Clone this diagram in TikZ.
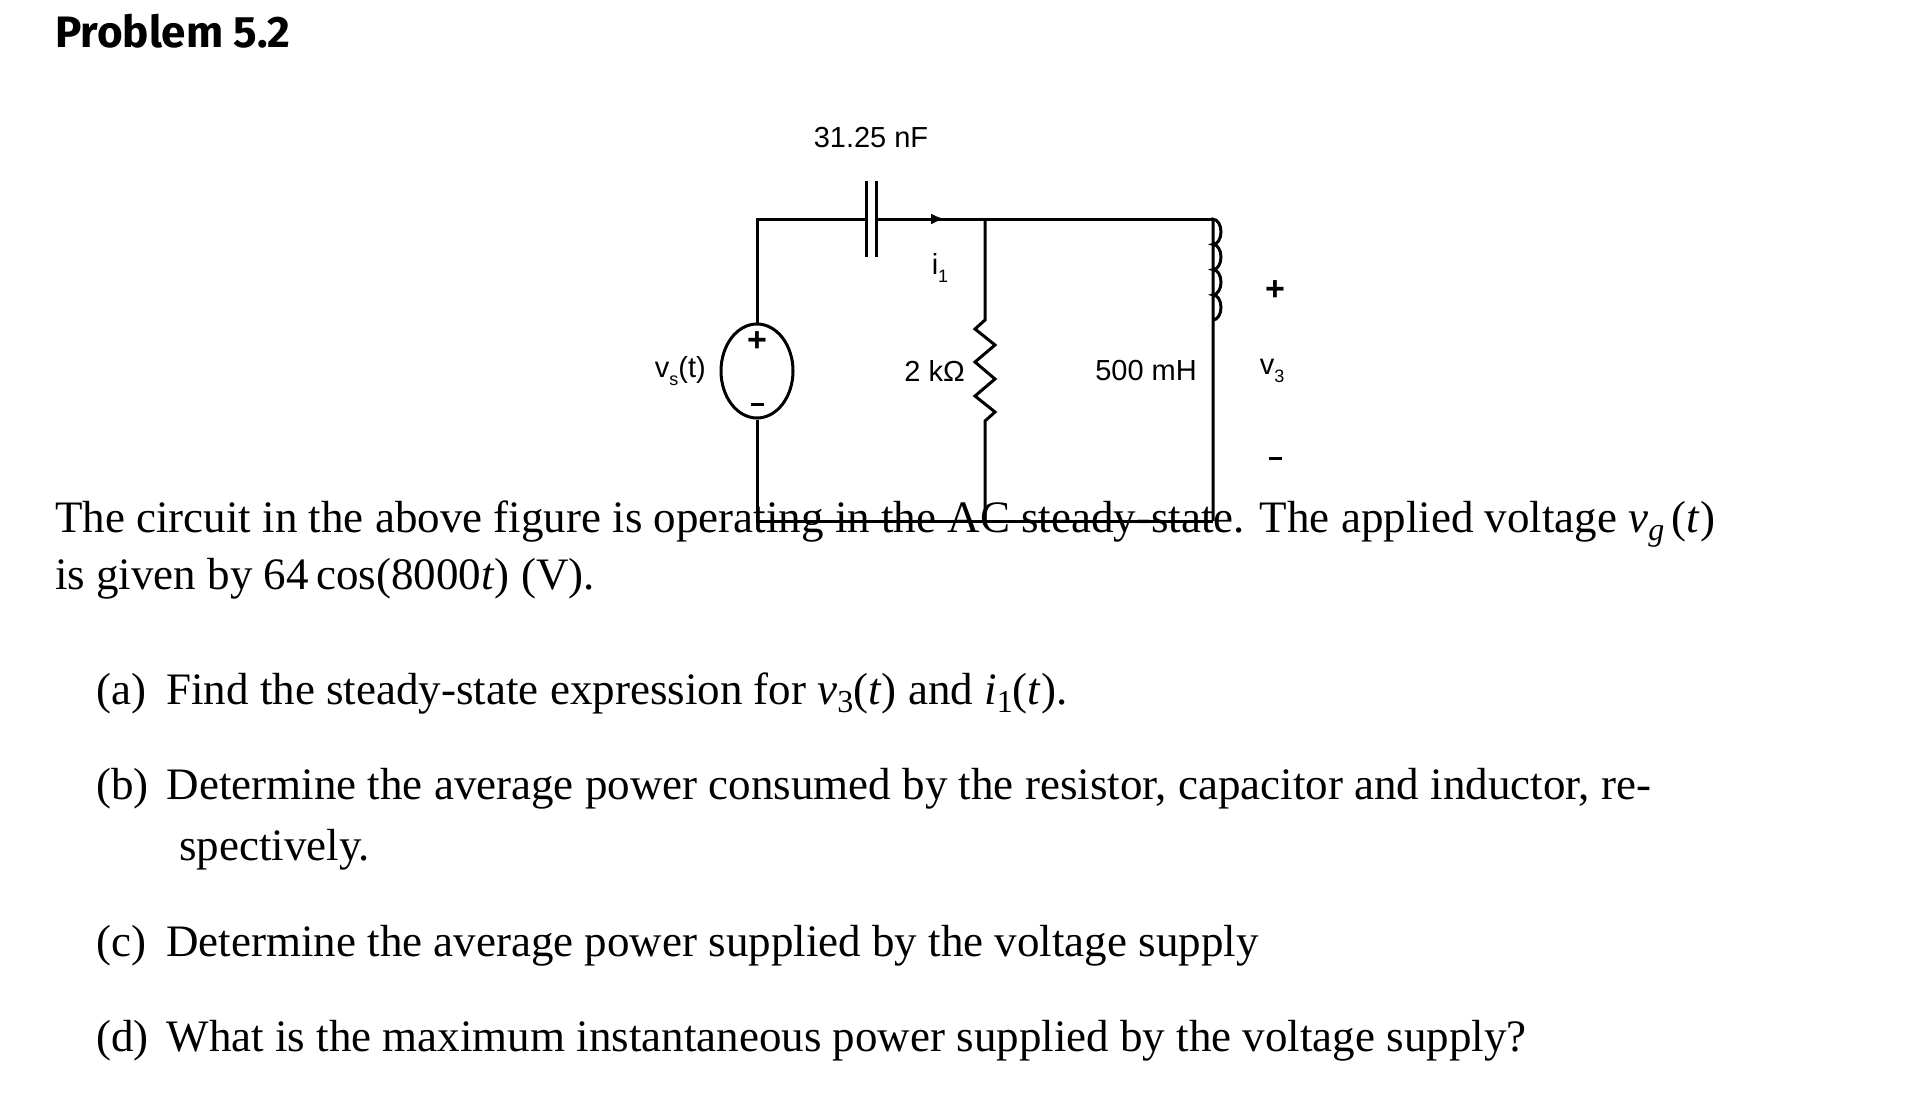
\documentclass[tikz,border=0pt]{standalone}
\usepackage{fontspec}
\setmainfont{Liberation Serif}
\newfontfamily\circfont{Liberation Sans}
\newfontfamily\titlefont{Fira Sans}
\usetikzlibrary{arrows.meta,shapes.geometric}
\newcommand{\mysub}[2]{\textit{#1}\raisebox{-0.35ex}{\fontsize{32}{32}\selectfont #2}}
\begin{document}
\begin{tikzpicture}[x=1pt,y=-1pt,
  wire/.style={line width=3pt},
  clab/.style={font=\circfont\fontsize{29}{32}\selectfont,inner sep=0pt},
  body/.style={font=\fontsize{45}{54}\selectfont,anchor=west,inner sep=0pt}]
\useasboundingbox (0,0) rectangle (1922,1098);
\node[anchor=west,inner sep=0pt,font=\titlefont\bfseries\fontsize{44}{48}\selectfont] (title) at (55,31) {Problem 5.2};
% circuit coordinates
\coordinate (tl) at (757,219); \coordinate (tm) at (985,219); \coordinate (tr) at (1213,219);
\coordinate (bl) at (757,521); \coordinate (bm) at (985,521); \coordinate (br) at (1213,521);
\coordinate (c1) at (866,219); \coordinate (c2) at (876,219);
\coordinate (a1) at (907,219); \coordinate (a2) at (945,219);
\node[draw,line width=3pt,ellipse,minimum width=72pt,minimum height=94pt,inner sep=0pt] (src) at (757,371) {};
\draw[wire] (src.north) -- (tl) -- (c1);
\draw[wire] (866,181) -- (866,257);
\draw[wire] (876,181) -- (876,257);
\draw[wire] (c2) -- (tr);
\draw[wire,-{Latex[length=14pt,width=11pt]}] (a1) -- (a2);
\draw[wire] (src.south) -- (bl) -- (br);
\draw[wire] (tm) -- (985,320) -- (975,329) -- (995,345) -- (975,362) -- (995,379) -- (975,396) -- (995,412) -- (985,421) -- (bm);
\draw[wire] (tr) -- (1213,320) arc[start angle=90,end angle=-90,x radius=8,y radius=12.6] arc[start angle=90,end angle=-90,x radius=8,y radius=12.6] arc[start angle=90,end angle=-90,x radius=8,y radius=12.6] arc[start angle=90,end angle=-90,x radius=8,y radius=12.6] -- (br);
\node[font=\circfont\bfseries\fontsize{34}{34}\selectfont,inner sep=0pt] (sp) at (757,342) {+};
\node[font=\circfont\bfseries\fontsize{34}{34}\selectfont,inner sep=0pt] (sm) at (757,404) {\rule{13pt}{3pt}};
\node[clab] (lc) at (871,138) {31.25 nF};
\node[clab] (li) at (940,268) {i\raisebox{-0.5ex}{\fontsize{18}{18}\selectfont 1}};
\node[clab,anchor=east] (lvs) at (706,371) {v\raisebox{-0.5ex}{\fontsize{18}{18}\selectfont s}(t)};
\node[clab,anchor=east] (lr) at (965,371) {2 kΩ};
\node[clab,anchor=east] (ll) at (1197,371) {500 mH};
\node[clab] (lv) at (1272,371) {v\raisebox{-0.5ex}{\fontsize{18}{18}\selectfont 3}};
\node[font=\circfont\bfseries\fontsize{34}{34}\selectfont,inner sep=0pt] (vp) at (1275,291) {+};
\node[inner sep=0pt] (vm) at (1275,458) {\rule{13pt}{3pt}};
% text
\node[body] (t1) at (55,524) {The circuit in the above figure is operating in the AC steady-state. The applied voltage \mysub{v}{\textit{g}}\,(\textit{t})};
\node[body] (t2) at (55,579) {is given by 64\,cos(8000\textit{t}) (V).};
\node[body] (pa) at (96,694) {(a)\hspace{0.45em}Find the steady-state expression for \mysub{v}{3}(\textit{t}) and \mysub{i}{1}(\textit{t}).};
\node[body] (pb) at (96,789) {(b)\hspace{0.4em}Determine the average power consumed by the resistor, capacitor and inductor, re-};
\node[body] (pb2) at (179,850) {spectively.};
\node[body] (pc) at (96,946) {(c)\hspace{0.45em}Determine the average power supplied by the voltage supply};
\node[body] (pd) at (96,1041) {(d)\hspace{0.4em}What is the maximum instantaneous power supplied by the voltage supply?};
\end{tikzpicture}
\end{document}
